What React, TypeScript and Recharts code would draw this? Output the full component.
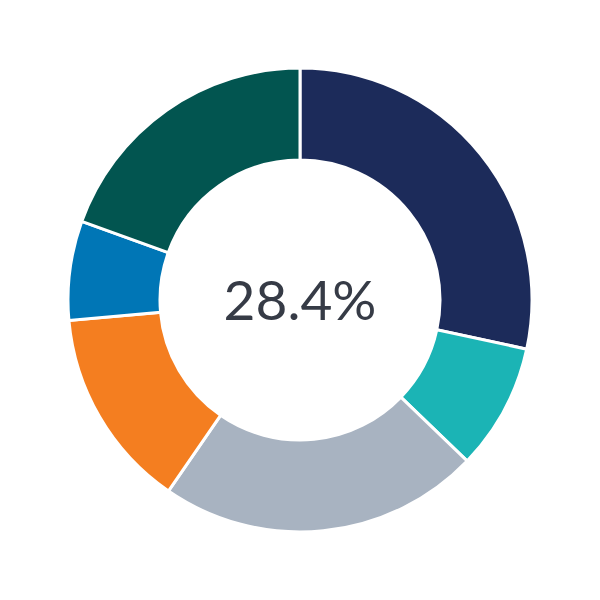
import React from 'react';
import { PieChart, Pie, Cell } from 'recharts';

const categories = ['A', 'B', 'C', 'D', 'E', 'F'];
const values = [28.4, 8.8, 22.4, 14.0, 6.9, 19.5];
const colors = ['#1c2b5a', '#1bb4b5', '#a8b3c1', '#f47e20', '#0076b6', '#025550'];
const centerLabel = '28.4%';

const data = categories.map((name, i) => ({ name, value: values[i] }));

export default function App() {
  return (
    <div style={{ position: 'absolute', left: 0, top: 0, width: 600, height: 600, background: '#fff' }}>
      <PieChart width={600} height={600} margin={{ top: 0, right: 0, bottom: 0, left: 0 }}>
        <Pie
          data={data}
          dataKey="value"
          nameKey="name"
          cx={300}
          cy={300}
          innerRadius={140}
          outerRadius={232}
          startAngle={90}
          endAngle={-270}
          stroke="#ffffff"
          strokeWidth={3}
          isAnimationActive={false}
        >
          {data.map((d, i) => (
            <Cell key={d.name} fill={colors[i]} />
          ))}
        </Pie>
        <text
          x={300}
          y={299}
          textAnchor="middle"
          dominantBaseline="central"
          fontFamily="Lato, sans-serif"
          fontSize={55}
          fill="#363b46"
        >
          {centerLabel}
        </text>
      </PieChart>
    </div>
  );
}
